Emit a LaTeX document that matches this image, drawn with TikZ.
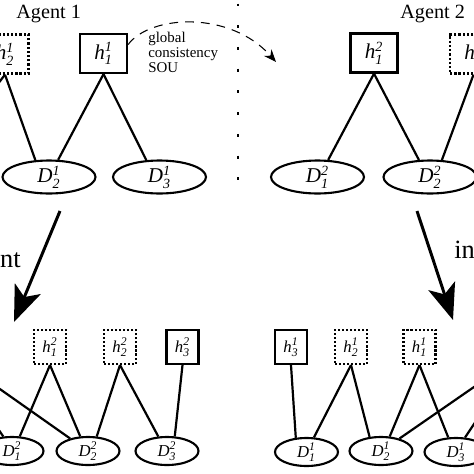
\documentclass[tikz,border=0pt]{standalone}
\usepackage{fontspec}
\setmainfont{Liberation Serif}
\usepackage{tikz}
\usetikzlibrary{arrows.meta,shapes.geometric}

\newcommand{\hlab}[2]{$\mathit{h}_{\mathit{#1}}^{\mathit{#2}}$}
\newcommand{\dlab}[2]{$\mathit{D}_{\mathit{#1}}^{\mathit{#2}}$}

\begin{document}
\begin{tikzpicture}[x=0.02cm, y=-0.02cm,
                    hyp/.style={draw, line width=1.3pt, inner sep=0pt, minimum width=0.94cm, minimum height=0.78cm, font=\fontsize{12}{12}\selectfont},
                    hypdot/.style={hyp, dash pattern=on 1.3pt off 1.1pt},
                    data/.style={ellipse, draw, line width=1.2pt, inner sep=0pt, minimum width=1.86cm, minimum height=0.66cm, font=\fontsize{12}{12}\selectfont},
                    shyp/.style={hyp, line width=1.2pt, minimum width=0.64cm, minimum height=0.68cm, font=\fontsize{9.5}{9.5}\selectfont},
                    shypdot/.style={shyp, dash pattern=on 1.2pt off 1.1pt},
                    sdata/.style={data, minimum width=1.26cm, minimum height=0.56cm, font=\fontsize{9.5}{9.5}\selectfont},
                    link/.style={line width=1.25pt},
                    divider/.style={line width=1.4pt, dash pattern=on 1.7pt off 10.66pt},
                    souarrow/.style={line width=0.6pt, dash pattern=on 5pt off 4pt, -{Stealth[length=0.25cm, width=0.2cm]}},
                    bigarrow/.style={line width=1.7pt, -{Stealth[length=0.72cm, width=0.56cm, inset=0.18cm]}},
                    heading/.style={anchor=base west, inner sep=0pt, font=\fontsize{11.5}{12}\selectfont},
                    bigword/.style={inner sep=0pt, font=\fontsize{15}{15}\selectfont},
                   ]

\useasboundingbox (0,0) rectangle (474,474);
\clip (0,0) rectangle (474,474);

% top: agent 1 and agent 2
\node[heading] (ag1) at (16,18) {Agent 1};
\node[heading] (ag2) at (400,18) {Agent 2};

\node[hypdot] (h21) at (5,54) {\hlab{2}{1}};
\node[hyp] (h11) at (103.5,53.5) {\hlab{1}{1}};
\node[hyp] (h12) at (374,53) {\hlab{1}{2}};
\node[hypdot] (h22) at (473.5,54) {\hlab{2}{2}};

\node[data] (D21) at (49,177) {\dlab{2}{1}};
\node[data] (D31) at (159.5,177) {\dlab{3}{1}};
\node[data] (D12) at (317.5,177) {\dlab{1}{2}};
\node[data] (D22) at (430,177) {\dlab{2}{2}};

\node[anchor=north west, align=left, inner sep=0pt, font=\fontsize{8.5}{8.6}\selectfont] (sou) at (148,32) {global\\consistency\\SOU};

\coordinate (offtl) at (-6,89);
\draw[link] (h21.south) -- (offtl);
\draw[link] (h21.south) -- (D21.129);
\draw[link] (h11.south) -- (D21.62);
\draw[link] (h11.south) -- (D31.128);
\draw[link] (h12.south) -- (D12.58);
\draw[link] (h12.south) -- (D22.123);
\draw[link] (h22.south) -- (D22.55);

\coordinate (souend) at (276,62);
\draw[souarrow] (h11.20) .. controls (150,15) and (230,10) .. (souend);

\coordinate (divtop) at (238,3.5);
\coordinate (divbot) at (238,182);
\draw[divider] (divtop) -- (divbot);

% big arrows
\coordinate (la0) at (60,211);
\coordinate (la1) at (14,322);
\draw[bigarrow] (la0) -- (la1);
\coordinate (ra0) at (417,211);
\coordinate (ra1) at (453,320);
\draw[bigarrow] (ra0) -- (ra1);

\node[bigword, anchor=base east] (lnt) at (21,267) {nt};
\node[bigword, anchor=base west] (rin) at (454,258) {in};

% bottom left
\node[shypdot] (bh12) at (50,347) {\hlab{1}{2}};
\node[shypdot] (bh22) at (120,347) {\hlab{2}{2}};
\node[shyp] (bh32) at (182.5,347) {\hlab{3}{2}};
\node[sdata] (bD12) at (12,451) {\dlab{1}{2}};
\node[sdata] (bD22) at (88,451) {\dlab{2}{2}};
\node[sdata] (bD32) at (167,451) {\dlab{3}{2}};

\draw[link] (bh12.south) -- (bD12.62);
\draw[link] (bh12.south) -- (bD22.118);
\draw[link] (bh22.south) -- (bD22.59);
\draw[link] (bh22.south) -- (bD32.121);
\draw[link] (bh32.south) -- (bD32.62);
\coordinate (offbl) at (-30,368);
\draw[link] (offbl) -- (bD22.145);
\coordinate (offbl2) at (-8,420);
\draw[link] (offbl2) -- (bD12.121);

% bottom right
\node[shyp] (bh31) at (291,347) {\hlab{3}{1}};
\node[shypdot] (bh21) at (351,347) {\hlab{2}{1}};
\node[shypdot] (bh11) at (419.5,347) {\hlab{1}{1}};
\node[sdata] (bD11) at (306.5,452) {\dlab{1}{1}};
\node[sdata] (bD21) at (381,451) {\dlab{2}{1}};
\node[sdata] (bD31) at (456,452) {\dlab{3}{1}};

\draw[link] (bh31.south) -- (bD11.127);
\draw[link] (bh21.south) -- (bD11.63);
\draw[link] (bh21.south) -- (bD21.129);
\draw[link] (bh11.south) -- (bD21.59);
\draw[link] (bh11.south) -- (bD31.118);
\coordinate (offbr) at (500,369);
\draw[link] (bD21.34) -- (offbr);
\coordinate (offbr2) at (482,412);
\draw[link] (bD31.58) -- (offbr2);

\end{tikzpicture}
\end{document}
